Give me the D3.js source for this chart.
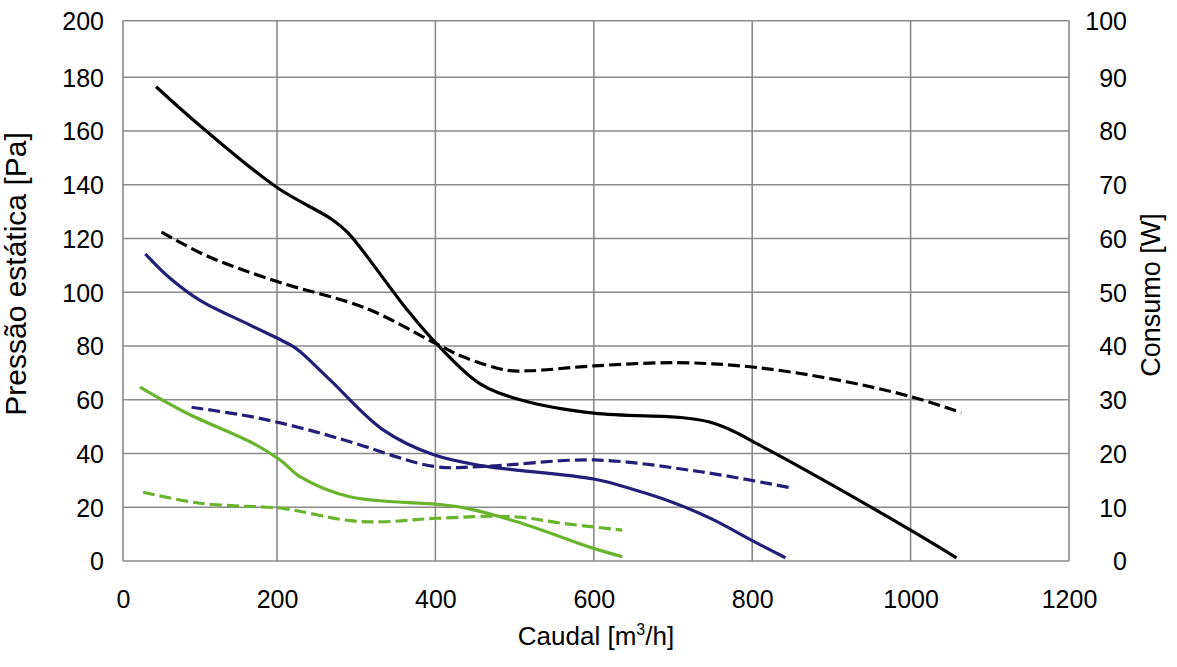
<!DOCTYPE html>
<html>
<head>
<meta charset="utf-8">
<script src="https://cdn.jsdelivr.net/npm/d3@7"></script>
<style>
  body { margin: 0; background: #fff; }
  text { font-family: "Liberation Sans", Arial, sans-serif; fill: #000; }
</style>
</head>
<body>
<svg id="chart" width="1177" height="667"></svg>
<script>
// Ticks
const xTicks = [0, 200, 400, 600, 800, 1000, 1200];
const yLeftTicks = [0, 20, 40, 60, 80, 100, 120, 140, 160, 180, 200];
const yRightTicks = [0, 10, 20, 30, 40, 50, 60, 70, 80, 90, 100];

// Pressure curves [m3/h, Pa] (left axis)
const pressureBlack = [[43,176.5],[100,162],[200,139],[270,127],[290,122],[363,94],[401,81],[456,66],[507,60],[600,55],[710,53.4],[745,51.8],[775,48.5],[810,43],[860,35],[1000,11.5],[1058,1.2]];
const pressureBlue = [[29,114.3],[60,105.5],[100,97],[165,87.8],[217,80.4],[229,78],[267,67.4],[334,48.8],[398,39.5],[460,35.4],[600,30.5],[650,26.6],[700,21.8],[750,15.5],[800,7.6],[842,1.2]];
const pressureGreen = [[22,64.7],[83,55],[169,43.8],[204,37.6],[229,31.4],[292,23.9],[402,21.1],[440,19.6],[503,14.6],[600,4.7],[636,1.6]];

// Power consumption curves [m3/h, W] (right axis)
const powerBlack = [[50,61.2],[110,56.7],[200,52],[313,47],[400,40.5],[435,38],[490,35.5],[520,35.4],[600,36.3],[705,36.9],[800,36.1],[907,33.7],[1000,30.6],[1064,27.6]];
const powerBlue = [[89,28.6],[165,26.9],[229,24.8],[292,22.2],[398,17.6],[461,17.6],[600,18.8],[735,16.6],[846,13.7]];
const powerGreen = [[26,12.8],[100,10.75],[187,10],[208,9.8],[292,7.5],[334,7.3],[402,7.95],[498,8.25],[561,7],[636,5.75]];

const colors = { black: "#000000", blue: "#231f78", green: "#69b42c" };

const svg = d3.select("#chart");

const x = d3.scaleLinear().domain([0, 200, 1200]).range([123, 277, 1069]);
const yL = d3.scaleLinear().domain([0, 180, 200]).range([561, 77.3, 20.7]);
const yR = d3.scaleLinear().domain([0, 90, 100]).range([561, 77.3, 20.7]);

const pLeft = 123, pRight = 1069, pTop = 20.7, pBottom = 561;
const gridColor = "#8a8a8a";

// horizontal grid
svg.append("g").selectAll("line").data(yLeftTicks).join("line")
  .attr("x1", pLeft).attr("x2", pRight)
  .attr("y1", d => yL(d)).attr("y2", d => yL(d))
  .attr("stroke", gridColor).attr("stroke-width", 1.6);
// vertical grid
svg.append("g").selectAll("line").data(xTicks).join("line")
  .attr("x1", d => x(d)).attr("x2", d => x(d))
  .attr("y1", pTop).attr("y2", pBottom)
  .attr("stroke", gridColor).attr("stroke-width", 1.6);

// Axes (labels only)
const fs = 25;
const xAxis = d3.axisBottom(x).tickValues(xTicks).tickSize(0).tickPadding(0).tickFormat(d3.format("d"));
const gx = svg.append("g").attr("transform", `translate(0,${pBottom})`).call(xAxis);
gx.select(".domain").remove();
gx.selectAll("text").attr("font-size", fs).attr("dy", null).attr("y", 47)
  .attr("font-family", "Liberation Sans, Arial, sans-serif").attr("fill", "#000");

const yAxisL = d3.axisLeft(yL).tickValues(yLeftTicks).tickSize(0).tickPadding(0);
const gyl = svg.append("g").attr("transform", `translate(104,0)`).call(yAxisL);
gyl.select(".domain").remove();
gyl.selectAll("text").attr("font-size", fs).attr("dy", "0.35em").attr("x", 0)
  .attr("font-family", "Liberation Sans, Arial, sans-serif").attr("fill", "#000");

const yAxisR = d3.axisLeft(yR).tickValues(yRightTicks).tickSize(0).tickPadding(0);
const gyr = svg.append("g").attr("transform", `translate(1127,0)`).call(yAxisR);
gyr.select(".domain").remove();
gyr.selectAll("text").attr("font-size", fs).attr("dy", "0.35em").attr("x", 0)
  .attr("font-family", "Liberation Sans, Arial, sans-serif").attr("fill", "#000");

// Axis titles
const xt = svg.append("text").attr("x", 596).attr("y", 645).attr("text-anchor", "middle").attr("font-size", 26);
xt.append("tspan").text("Caudal [m");
xt.append("tspan").text("3").attr("font-size", 16).attr("dy", -10);
xt.append("tspan").text("/h]").attr("dy", 10);

svg.append("text").attr("transform", "translate(26,274) rotate(-90)")
  .attr("text-anchor", "middle").attr("font-size", 30).text("Pressão estática [Pa]");
svg.append("text").attr("transform", "translate(1160,295) rotate(-90)")
  .attr("text-anchor", "middle").attr("font-size", 27).text("Consumo [W]");

// Curves
const lineL = d3.line().x(d => x(d[0])).y(d => yL(d[1])).curve(d3.curveCatmullRom.alpha(0.5));
const lineR = d3.line().x(d => x(d[0])).y(d => yR(d[1])).curve(d3.curveCatmullRom.alpha(0.5));

const series = [
  { data: pressureBlack, line: lineL, color: colors.black, dash: null },
  { data: pressureBlue, line: lineL, color: colors.blue, dash: null },
  { data: pressureGreen, line: lineL, color: colors.green, dash: null },
  { data: powerBlack, line: lineR, color: colors.black, dash: "12,5" },
  { data: powerBlue, line: lineR, color: colors.blue, dash: "12,5" },
  { data: powerGreen, line: lineR, color: colors.green, dash: "12,5" }
];
svg.append("g").selectAll("path").data(series).join("path")
  .attr("d", s => s.line(s.data))
  .attr("fill", "none")
  .attr("stroke", s => s.color)
  .attr("stroke-width", 3.2)
  .attr("stroke-dasharray", s => s.dash);
</script>
</body>
</html>
